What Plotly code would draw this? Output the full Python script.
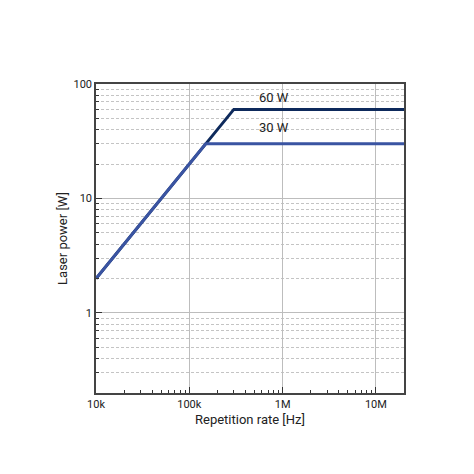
import numpy as np
import plotly.graph_objects as go

# repetition rate [Hz] and laser power [W] for each model
rate_60w = [1e4, 3e5, 2e7]
power_60w = [2, 60, 60]
rate_30w = [1e4, 1.5e5, 2e7]
power_30w = [2, 30, 30]

x_tickvals = [1e4, 1e5, 1e6, 1e7]
x_ticktext = ["10k", "100k", "1M", "10M"]
y_tickvals = [1, 10, 100]
y_ticktext = ["1", "10", "100"]

# decades used for the minor (2..9) ticks
x_decades = [1e4, 1e5, 1e6, 1e7]
y_decades = [0.1, 1, 10]

labels = ["60 W", "30 W"]
label_rate = [8e5, 8e5]
label_power = [77, 42]

x_minor = [d * m for d in x_decades for m in range(2, 10) if d * m <= 2e7]
y_minor = [d * m for d in y_decades for m in range(2, 10) if d * m >= 0.2]

fig = go.Figure()
fig.add_trace(go.Scatter(x=rate_60w, y=power_60w, mode="lines",
                         line=dict(color="#0e2a5c", width=3), name="60 W"))
fig.add_trace(go.Scatter(x=rate_30w, y=power_30w, mode="lines",
                         line=dict(color="#3a54a2", width=3), name="30 W"))

for txt, xr, yp in zip(labels, label_rate, label_power):
    fig.add_annotation(x=np.log10(xr), y=np.log10(yp), text=txt, showarrow=False,
                       font=dict(size=13, color="#222222"))

fig.update_layout(
    width=474, height=474,
    margin=dict(l=88, r=78, t=76, b=89),
    plot_bgcolor="white", paper_bgcolor="white",
    showlegend=False,
    font=dict(family="Roboto", size=11, color="#222222"),
)
fig.update_xaxes(
    type="log", range=[4, np.log10(2e7)],
    tickvals=x_tickvals, ticktext=x_ticktext,
    showgrid=True, gridcolor="#bdbdbd", gridwidth=1,
    ticks="inside", ticklen=6, tickcolor="#333333",
    minor=dict(tickvals=x_minor, ticks="inside", ticklen=3, tickcolor="#333333",
               showgrid=False),
    showline=True, linecolor="#444444", linewidth=1.5, mirror=True,
    title=dict(text="Repetition rate [Hz]", standoff=5),
    zeroline=False,
)
fig.update_yaxes(
    type="log", range=[np.log10(0.2), 2],
    tickvals=y_tickvals, ticktext=y_ticktext,
    showgrid=True, gridcolor="#bdbdbd", gridwidth=1,
    ticks="inside", ticklen=6, tickcolor="#333333",
    minor=dict(tickvals=y_minor, ticks="inside", ticklen=3, tickcolor="#333333",
               showgrid=True, gridcolor="#c4c4c4", griddash="3px,2px", gridwidth=1),
    showline=True, linecolor="#444444", linewidth=1.5, mirror=True,
    title=dict(text="Laser power [W]", standoff=3),
    zeroline=False,
)

fig.write_html("out.html")
